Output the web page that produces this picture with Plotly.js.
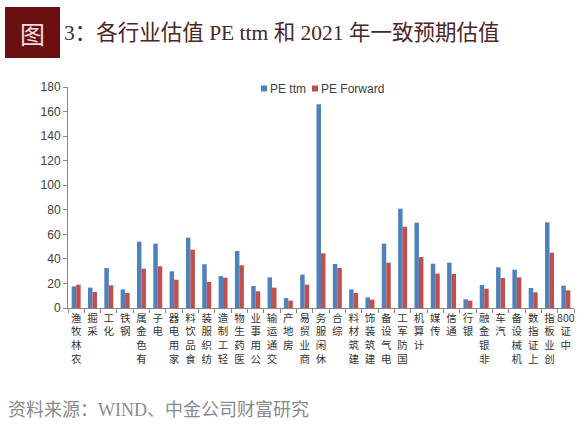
<!DOCTYPE html>
<html>
<head>
<meta charset="utf-8">
<script src="https://cdn.plot.ly/plotly-3.0.1.min.js"></script>
<style>
html,body{margin:0;padding:0;background:#fff;}
#chart{width:583px;height:427px;}
</style>
</head>
<body>
<div id="chart"></div>
<script>
const categories = ["农林牧渔","采掘","化工","钢铁","有色金属","电子","家用电器","食品饮料","纺织服装","轻工制造","医药生物","公用事业","交通运输","房地产","商业贸易","休闲服务","综合","建筑材料","建筑装饰","电气设备","国防军工","计算机","传媒","通信","银行","非银金融","汽车","机械设备","上证指数","创业板指","中证800"];
const peTtm = [17.6,16.6,32.6,15.2,54,52.4,29.9,57.3,35.6,26,46.4,17.9,25,8.1,27.2,166,35.8,15.2,8.7,52.4,80.9,69.5,36.1,36.9,7.1,18.7,33.1,31.2,16.3,69.8,18.2];
const peFwd = [19,13,18.5,12.2,32,34,23,47.5,21.2,24.7,34.8,13.6,16.6,6,19,44.5,32.6,12.2,6.8,36.9,66.2,41.5,28,27.7,6,15.7,24.4,25,12.8,45,14.4];
const yTicks = [0,20,40,60,80,100,120,140,160,180];
const seriesNames = ["PE ttm","PE Forward"];
const seriesColors = ["#4f81bd","#c0504d"];
const titleText = "3：各行业估值 PE ttm 和 2021 年一致预期估值";
const sourceText = "资料来源：WIND、中金公司财富研究";

// vertical label: read bottom-to-top, characters upright
function vertLabel(s){
  const parts = s.match(/[0-9A-Za-z]+|./g);
  return parts.reverse().join("<br>");
}

const W = 583, H = 427;
const M = {l:68, r:9, t:87, b:119};
const pw = W - M.l - M.r, ph = H - M.t - M.b;
const px = x => (x - M.l) / pw;
const py = y => (H - M.b - y) / ph;

const data = [
  {type:"bar", name:seriesNames[0], x:categories, y:peTtm, marker:{color:seriesColors[0]}},
  {type:"bar", name:seriesNames[1], x:categories, y:peFwd, marker:{color:seriesColors[1]}}
];

// legend drawn as small squares + text (Excel-style compact legend)
const legendX = [261, 312];
const legendShapes = seriesNames.map((n,i)=>({
  type:"rect", xref:"paper", yref:"paper",
  x0:px(legendX[i]), x1:px(legendX[i]+6), y0:py(91.5), y1:py(85.5),
  fillcolor:seriesColors[i], line:{width:0}
}));
const legendAnns = seriesNames.map((n,i)=>({
  xref:"paper", yref:"paper", x:px(legendX[i]+7), y:py(88.5), xanchor:"left", yanchor:"middle",
  text:n, showarrow:false, font:{family:"Liberation Sans, Arial, sans-serif", size:12, color:"#404040"}
}));

const layout = {
  width:W, height:H,
  margin:M,
  paper_bgcolor:"#ffffff", plot_bgcolor:"#ffffff",
  barmode:"group", bargap:0.45, bargroupgap:0,
  showlegend:false,
  xaxis:{
    type:"category",
    tickmode:"array", tickvals:categories, ticktext:categories.map(vertLabel),
    tickangle:0,
    showline:true, linecolor:"#868686", linewidth:1,
    ticks:"outside", ticklen:4, tickcolor:"#868686", tickson:"boundaries",
    showgrid:false, zeroline:false,
    tickfont:{family:"Noto Sans CJK SC, sans-serif", size:10.5, color:"#333333"},
    automargin:false
  },
  yaxis:{
    range:[0,180], tickmode:"array", tickvals:yTicks,
    showline:true, linecolor:"#868686", linewidth:1,
    ticks:"outside", ticklen:4, tickcolor:"#868686",
    showgrid:false, zeroline:false,
    tickfont:{family:"Liberation Sans, Arial, sans-serif", size:12, color:"#404040"},
    automargin:false
  },
  shapes:[
    {type:"rect", xref:"paper", yref:"paper", x0:px(5), x1:px(60), y0:py(58), y1:py(7),
     fillcolor:"#6a1011", line:{width:0}, layer:"above"}
  ].concat(legendShapes),
  annotations:[
    {xref:"paper", yref:"paper", x:px(32.5), y:py(33), xanchor:"center", yanchor:"middle",
     text:"图", showarrow:false, font:{family:"Noto Sans CJK SC, sans-serif", size:25, color:"#f3dcdc"}},
    {xref:"paper", yref:"paper", x:px(62), y:py(33), xanchor:"left", yanchor:"middle",
     text:titleText, showarrow:false, font:{family:"Liberation Serif, Noto Sans CJK SC, serif", size:21.5, color:"#4a2626"}},
    {xref:"paper", yref:"paper", x:px(6), y:py(410), xanchor:"left", yanchor:"middle",
     text:sourceText, showarrow:false, font:{family:"Liberation Serif, Noto Sans CJK SC, serif", size:18, color:"#8a8a8a"}}
  ].concat(legendAnns)
};

Plotly.newPlot("chart", data, layout, {staticPlot:true, displayModeBar:false});
</script>
</body>
</html>
